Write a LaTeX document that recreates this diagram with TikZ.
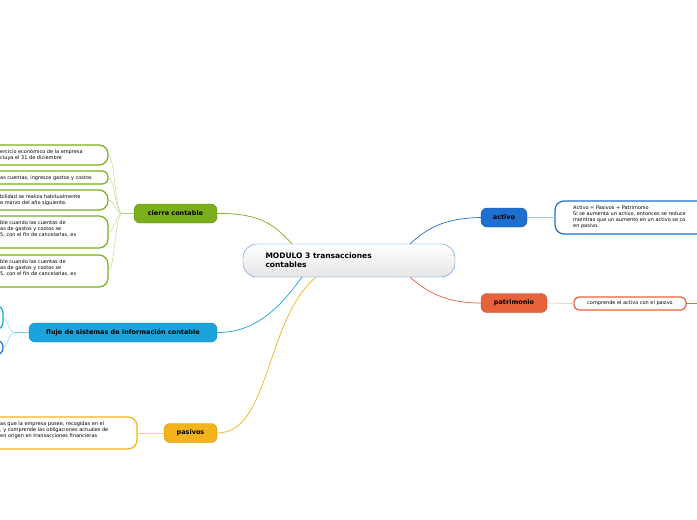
\documentclass[tikz,border=0pt]{standalone}
\usepackage{fontspec}
\setmainfont{DejaVu Sans}
\usetikzlibrary{shapes.misc}
\definecolor{gr}{HTML}{7AAE1A}
\definecolor{bl}{HTML}{1AA3DC}
\definecolor{db}{HTML}{1E6FD0}
\definecolor{ye}{HTML}{F2B31C}
\definecolor{og}{HTML}{E8623A}
\tikzset{
 pill/.style={draw=#1!80!black,fill=#1,rounded corners=6pt,minimum height=19pt,inner sep=0pt,font=\bfseries\fontsize{6.5}{7}\selectfont,text=black},
 sub/.style={draw=#1,line width=1.2pt,rounded corners=9pt,fill=white},
 txt/.style={font=\fontsize{5}{6}\selectfont,align=left,anchor=north west,inner sep=0pt},
 link/.style={draw=#1,line width=0.7pt}
}
\begin{document}
\begin{tikzpicture}[x=1pt,y=-1pt]
\useasboundingbox (0,0) rectangle (697,520);
\clip (0,0) rectangle (697,520);
\fill[white] (0,0) rectangle (697,520);
% central
\node[draw=db!80,top color=white,bottom color=gray!20,rounded corners=14pt,minimum width=212pt,minimum height=33pt] (c) at (349,260.5) {};
\node[font=\bfseries\fontsize{7.5}{9}\selectfont,align=left,anchor=west] (ct) at (262,260.5) {MODULO 3 transacciones\\contables};
% branches
\node[pill=gr,minimum width=83pt] (cc) at (175.5,213.5) {cierre contable};
\node[pill=bl,minimum width=188pt] (fl) at (123,332.5) {flujo de sistemas de información contable};
\node[pill=ye,minimum width=53pt] (pa) at (190.5,433) {pasivos};
\node[pill=db,minimum width=46pt] (ac) at (504,217.5) {activo};
\node[pill=og,minimum width=66pt] (pt) at (514,303) {patrimonio};
\draw[link=gr] (cc.east) .. controls (260,213) and (275,225) .. (292,244);
\draw[link=bl] (fl.east) .. controls (260,333) and (285,300) .. (302,277);
\draw[link=ye] (pa.east) .. controls (270,433) and (265,320) .. (316,277);
\draw[link=db] (410,244) .. controls (430,225) and (450,218) .. (ac.west);
\draw[link=og] (410,277) .. controls (430,295) and (450,303) .. (pt.west);
% cierre children
\coordinate (j) at (122,213.5);
\draw[link=gr!60] (cc.west) -- (j);
\draw[sub=gr] (-30,145) rectangle (108,165); \node[txt] (t1) at (0,149) {ercicio económico de la empresa\\cluya el 31 de diciembre};
\draw[sub=gr,rounded corners=6pt] (-30,171) rectangle (108,184); \node[txt] (t2) at (0,175) {as cuentas, ingresos gastos y costos};
\draw[sub=gr] (-30,190) rectangle (108,210); \node[txt] (t3) at (0,194) {bilidad se realiza habitualmente\\e marzo del año siguiente.};
\draw[sub=gr] (-30,216) rectangle (108,248); \node[txt] (t4) at (0,220) {ble cuando las cuentas de\\as de gastos y costos se\\5, con el fin de cancelarlas, es};
\draw[sub=gr] (-30,255) rectangle (108,287); \node[txt] (t5) at (0,259) {ble cuando las cuentas de\\as de gastos y costos se\\5, con el fin de cancelarlas, es};
\foreach \y in {155,177.5,200,232,271}{\draw[link=gr!45,line width=0.5pt] (j) .. controls (115,213.5) and (115,\y) .. (108,\y);}
% flujo children
\coordinate (jf) at (15,332.5);
\draw[link=bl!60] (fl.west) -- (jf);
\draw[draw=bl,line width=1.2pt,rounded corners=8pt] (-20,305) rectangle (3,330);
\draw[draw=db,line width=1.2pt,rounded corners=7pt] (-20,340) rectangle (3,355);
\draw[link=bl!50,line width=0.5pt] (jf) .. controls (8,332) and (8,318) .. (3,318);
\draw[link=bl!50,line width=0.5pt] (jf) .. controls (8,333) and (8,347) .. (3,347);
% pasivos child
\draw[sub=ye] (-30,417) rectangle (137,449);
\node[txt] (tp) at (0,421) {as que la empresa posee, recogidas en el\\, y comprende las obligaciones actuales de\\en origen en transacciones financieras};
\draw[link=ye!60,line width=0.5pt] (pa.west) -- (137,433);
% activo child
\draw[sub=db] (555,201) rectangle (720,234);
\node[txt] (ta) at (573,205) {Activo = Pasivos + Patrimonio\\Si se aumenta un activo, entonces se reduce\\mientras que un aumento en un activo se co\\en pasivo.};
\draw[link=db!40,line width=0.6pt] (ac.east) -- (555,217.5);
% patrimonio child
\draw[draw=og,line width=1.2pt,rounded corners=5pt,fill=white] (574,297) rectangle (686,310);
\node[font=\fontsize{5}{6}\selectfont] (tpt) at (630,303.5) {comprende el activo con el pasivo};
\draw[link=og!40,line width=0.6pt] (pt.east) -- (574,303.5);
\draw[link=og,line width=0.6pt] (686,303.5) -- (697,303.5);
\end{tikzpicture}
\end{document}
